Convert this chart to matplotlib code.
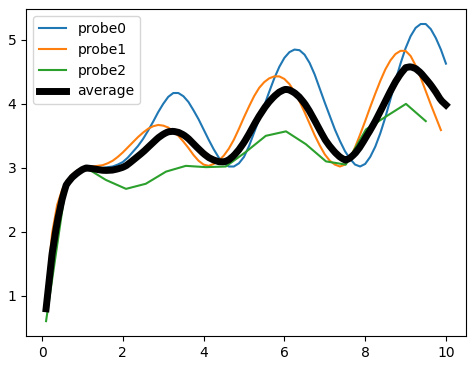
import numpy as np
import matplotlib
matplotlib.use("Agg")
import matplotlib.pyplot as plt

# probe0: first sample at 0.1, then every 0.125 from 0.25 to 10.0
probe0_y = [0.78,
            1.75, 2.25, 2.55, 2.73, 2.85, 2.92, 2.97, 2.99,
            3.00, 3.00, 3.00, 3.01, 3.02, 3.05, 3.09, 3.16,
            3.25, 3.34, 3.45, 3.58, 3.72, 3.87, 4.00, 4.11,
            4.17, 4.17, 4.12, 4.03, 3.90, 3.76, 3.60, 3.44,
            3.29, 3.16, 3.07, 3.02, 3.02, 3.07, 3.17, 3.34,
            3.55, 3.76, 3.97, 4.19, 4.40, 4.58, 4.72, 4.81,
            4.85, 4.84, 4.77, 4.64, 4.46, 4.24, 4.02, 3.81,
            3.60, 3.42, 3.26, 3.14, 3.05, 3.02, 3.06, 3.17,
            3.33, 3.54, 3.79, 4.07, 4.36, 4.63, 4.87, 5.06,
            5.19, 5.25, 5.25, 5.17, 5.03, 4.85, 4.63]

# probe1: first sample at 0.1, then every 0.125 from 0.25 to 9.875
probe1_y = [1.00,
            1.98, 2.42, 2.66, 2.80, 2.90, 2.96, 3.00, 3.01,
            3.02, 3.03, 3.04, 3.07, 3.11, 3.17, 3.24, 3.32,
            3.40, 3.48, 3.55, 3.61, 3.65, 3.67, 3.66, 3.63,
            3.57, 3.50, 3.41, 3.31, 3.20, 3.11, 3.05, 3.03,
            3.06, 3.11, 3.19, 3.30, 3.44, 3.61, 3.79, 3.96,
            4.12, 4.25, 4.34, 4.40, 4.43, 4.43, 4.39, 4.31,
            4.19, 4.04, 3.87, 3.69, 3.51, 3.35, 3.21, 3.11,
            3.05, 3.02, 3.05, 3.15, 3.32, 3.52, 3.73, 3.95,
            4.16, 4.36, 4.54, 4.68, 4.78, 4.83, 4.83, 4.75,
            4.60, 4.41, 4.20, 3.99, 3.79, 3.59]

# probe2: coarse samples
probe2_x = [0.1, 0.59, 1.09, 1.58, 2.08, 2.57, 3.07, 3.56, 4.06, 4.55,
            5.05, 5.54, 6.04, 6.53, 7.03, 7.52, 8.02, 8.51, 9.01, 9.5]
probe2_y = [0.60, 2.72, 3.00, 2.81, 2.67, 2.75, 2.94, 3.03, 3.01, 3.02,
            3.25, 3.50, 3.57, 3.37, 3.10, 3.05, 3.60, 3.80, 4.00, 3.73]

probe0_x = np.r_[0.1, 0.25 + 0.125 * np.arange(len(probe0_y) - 1)]
probe1_x = np.r_[0.1, 0.25 + 0.125 * np.arange(len(probe1_y) - 1)]

probes = [(probe0_x, probe0_y), (probe1_x, probe1_y), (probe2_x, probe2_y)]

# average of the probes on a common grid
grid = np.linspace(0.1, 10.0, 200)
average = np.mean([np.interp(grid, px, py) for px, py in probes], axis=0)

fig = plt.figure(figsize=(4.74, 3.66), dpi=100)
ax = fig.add_axes([0.055, 0.082, 0.928, 0.893])
for i, (px, py) in enumerate(probes):
    ax.plot(px, py, label=f"probe{i}")
ax.plot(grid, average, color="black", linewidth=5, label="average")
ax.legend(loc="upper left")
fig.savefig("out.png")
